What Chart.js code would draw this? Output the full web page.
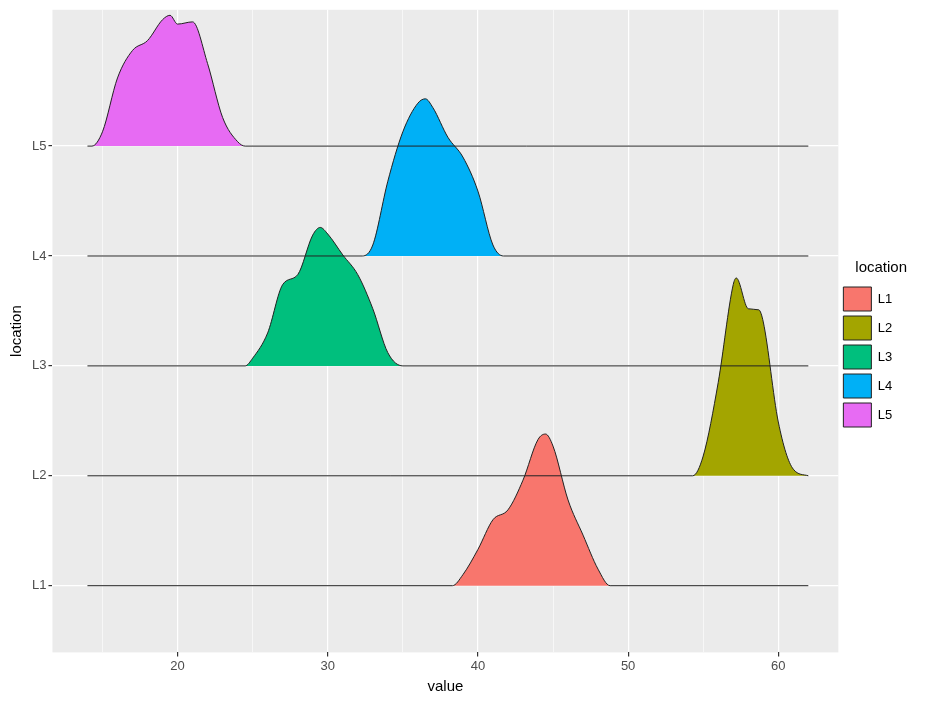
<!DOCTYPE html>
<html>
<head>
<meta charset="utf-8">
<script src="https://cdn.jsdelivr.net/npm/chart.js@4"></script>
<style>
  body { margin: 0; background: #fff; }
  #wrap { width: 930px; height: 704px; }
</style>
</head>
<body>
<div id="wrap"><canvas id="ridges"></canvas></div>
<script>
// categories and colours
var locations = ['L1', 'L2', 'L3', 'L4', 'L5'];
var fills = ['#F8766D', '#A3A500', '#00BF7D', '#00B0F6', '#E76BF3'];

// density outlines, x value and ridge height (in units of row spacing)
var l1X = [38.3, 39, 40, 41, 42, 43, 44, 44.5, 45, 46, 47, 48, 48.8];
var l1H = [0, 0.1, 0.33, 0.6, 0.69, 0.96, 1.33, 1.38, 1.27, 0.78, 0.46, 0.15, 0];
var l2X = [54.3, 55, 56, 57, 57.2, 58, 58.7, 59, 60, 61, 62];
var l2H = [0, 0.18, 0.85, 1.74, 1.8, 1.52, 1.51, 1.4, 0.49, 0.06, 0];
var l3X = [24.5, 25, 26, 27, 28, 29, 29.5, 30, 31, 32, 33, 34, 35];
var l3H = [0, 0.07, 0.3, 0.74, 0.83, 1.19, 1.26, 1.2, 1.01, 0.83, 0.52, 0.12, 0];
var l4X = [32.3, 33, 34, 35, 36, 36.5, 37, 38, 39, 40, 41, 41.7];
var l4H = [0, 0.1, 0.68, 1.13, 1.39, 1.43, 1.35, 1.08, 0.9, 0.59, 0.1, 0];
var l5X = [14.3, 15, 16, 17, 18, 19, 19.5, 20, 21, 22, 23, 24, 24.5];
var l5H = [0, 0.13, 0.62, 0.87, 0.96, 1.15, 1.19, 1.11, 1.13, 0.75, 0.26, 0.04, 0];

var ridgeX = [l1X, l2X, l3X, l4X, l5X];
var ridgeH = [l1H, l2H, l3H, l4H, l5H];
var lineStart = 14, lineEnd = 62;

var datasets = [];
for (var i = locations.length - 1; i >= 0; i--) {
    var base = i + 1;
    var pts = [{x: lineStart, y: base}];
    for (var j = 0; j < ridgeX[i].length; j++) {
        pts.push({x: ridgeX[i][j], y: base + ridgeH[i][j]});
    }
    if (ridgeX[i][ridgeX[i].length - 1] < lineEnd) pts.push({x: lineEnd, y: base});
    datasets.push({
        label: locations[i],
        data: pts,
        backgroundColor: fills[i],
        borderColor: '#222',
        borderWidth: 1,
        pointRadius: 0,
        cubicInterpolationMode: 'monotone',
        fill: {value: base}
    });
}

var panelBg = {
    id: 'panelBg',
    beforeDraw: function(chart) {
        var a = chart.chartArea, c = chart.ctx;
        c.save();
        c.fillStyle = '#EBEBEB';
        c.fillRect(a.left, a.top, a.right - a.left, a.bottom - a.top);
        c.restore();
    }
};

var font12 = {family: 'Liberation Sans, Arial', size: 13};
var font15 = {family: 'Liberation Sans, Arial', size: 15};

new Chart(document.getElementById('ridges'), {
    type: 'line',
    data: {datasets: datasets},
    plugins: [panelBg],
    options: {
        responsive: true,
        maintainAspectRatio: false,
        animation: false,
        layout: {padding: {top: -8, right: 6, bottom: 4, left: 4}},
        plugins: {
            tooltip: {enabled: false},
            legend: {
                position: 'right',
                reverse: true,
                title: {display: true, text: 'location', color: '#000', font: font15, padding: {top: 0, bottom: 4}},
                labels: {
                    color: '#1A1A1A',
                    font: font12,
                    boxWidth: 28,
                    boxHeight: 24,
                    padding: 5,
                    generateLabels: function(chart) {
                        return chart.data.datasets.map(function(d, k) {
                            return {text: d.label + '      ', fillStyle: d.backgroundColor, strokeStyle: '#222', lineWidth: 1, datasetIndex: k};
                        });
                    }
                }
            }
        },
        scales: {
            x: {
                type: 'linear',
                min: 11.67,
                max: 64,
                afterBuildTicks: function(ax) {
                    ax.ticks = [15, 20, 25, 30, 35, 40, 45, 50, 55, 60].map(function(v) { return {value: v}; });
                },
                ticks: {
                    color: '#4D4D4D',
                    font: font12,
                    padding: 2,
                    callback: function(v) { return v % 10 === 0 ? v : ''; }
                },
                grid: {
                    color: '#FFFFFF',
                    lineWidth: function(ctx) { return ctx.tick && ctx.tick.value % 10 === 0 ? 1.2 : 0.6; },
                    tickColor: function(ctx) { return ctx.tick && ctx.tick.value % 10 === 0 ? '#333' : 'rgba(0,0,0,0)'; },
                    tickLength: 4
                },
                border: {display: false},
                title: {display: true, text: 'value', color: '#000', font: font15, padding: {top: 2}}
            },
            y: {
                type: 'linear',
                min: 0.393,
                max: 6.24,
                afterBuildTicks: function(ax) {
                    ax.ticks = [1, 2, 3, 4, 5].map(function(v) { return {value: v}; });
                },
                ticks: {
                    color: '#4D4D4D',
                    font: font12,
                    padding: 2,
                    callback: function(v) { return locations[v - 1]; }
                },
                grid: {color: '#FFFFFF', lineWidth: 1.2, tickColor: '#333', tickLength: 4},
                border: {display: false},
                title: {display: true, text: 'location', color: '#000', font: font15}
            }
        }
    }
});
</script>
</body>
</html>
